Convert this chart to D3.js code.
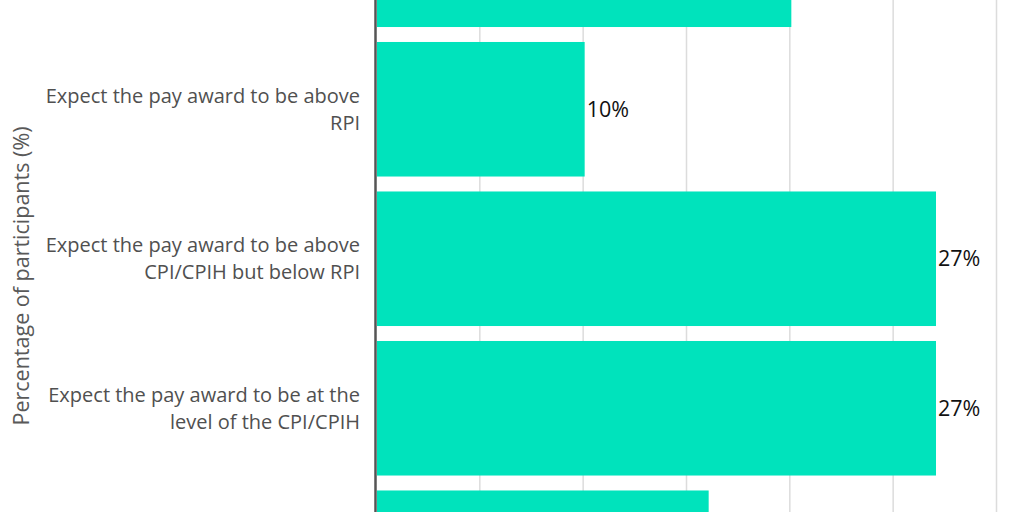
<!DOCTYPE html>
<html>
<head>
<meta charset="utf-8">
<script src="https://cdn.jsdelivr.net/npm/d3@7"></script>
<style>
  body { margin: 0; background: #fff; }
  svg { display: block; font-family: "Open Sans", "Noto Sans", sans-serif; }
  .cat-label { fill: #505050; font-size: 20px; }
  .val-label { fill: #111; font-size: 21.5px; }
  .axis-title { fill: #595959; font-size: 21.5px; }
</style>
</head>
<body>
<div id="chart"></div>
<script>
// data (top and bottom bars are cut off in the view)
const categories = [
  "Expect the pay award to be above inflation",
  "Expect the pay award to be above RPI",
  "Expect the pay award to be above CPI/CPIH but below RPI",
  "Expect the pay award to be at the level of the CPI/CPIH",
  "Expect the pay award to be below CPI/CPIH"
];
const labelLines = [
  ["Expect the pay award to be above", "inflation"],
  ["Expect the pay award to be above", "RPI"],
  ["Expect the pay award to be above", "CPI/CPIH but below RPI"],
  ["Expect the pay award to be at the", "level of the CPI/CPIH"],
  ["Expect the pay award to be below", "CPI/CPIH"]
];
const values = [20, 10, 27, 27, 16];
const gridTicks = [5, 10, 15, 20, 25, 30];

const width = 1024, height = 512;

const svg = d3.select("#chart")
    .append("svg")
    .attr("width", width)
    .attr("height", height);

const x = d3.scaleLinear()
    .domain([0, 30])
    .range([376.5, 996.5]);

const y = d3.scaleBand()
    .domain(categories)
    .range([-115, 632.5])
    .paddingInner(0.1)
    .paddingOuter(0.05);

// gridlines
svg.append("g")
    .selectAll("line")
    .data(gridTicks)
    .join("line")
    .attr("x1", d => x(d))
    .attr("x2", d => x(d))
    .attr("y1", 0)
    .attr("y2", height)
    .attr("stroke", "#dcdcdc")
    .attr("stroke-width", 1.5);

// bars
svg.append("g")
    .selectAll("rect")
    .data(values)
    .join("rect")
    .attr("x", x(0) + 0.5)
    .attr("y", (d, i) => y(categories[i]))
    .attr("width", d => x(d) - x(0) + 1)
    .attr("height", y.bandwidth())
    .attr("fill", "#00e3bc");

// value labels
svg.append("g")
    .selectAll("text")
    .data(values)
    .join("text")
    .attr("class", "val-label")
    .attr("x", d => x(d) + 3.5)
    .attr("y", (d, i) => y(categories[i]) + y.bandwidth() / 2)
    .attr("dy", "0.35em")
    .text(d => d + "%");

// category labels
const catG = svg.append("g");
categories.forEach((c, i) => {
    const cy = y(c) + y.bandwidth() / 2;
    const t = catG.append("text")
        .attr("class", "cat-label")
        .attr("text-anchor", "end");
    labelLines[i].forEach((ln, j) => {
        t.append("tspan")
            .attr("x", 360)
            .attr("y", cy + (j - 0.5) * 27)
            .attr("dy", "0.35em")
            .text(ln);
    });
});

// y axis line
svg.append("line")
    .attr("x1", 375.5)
    .attr("x2", 375.5)
    .attr("y1", 0)
    .attr("y2", height)
    .attr("stroke", "#555")
    .attr("stroke-width", 2.5);

// axis title
svg.append("text")
    .attr("class", "axis-title")
    .attr("text-anchor", "middle")
    .attr("transform", "translate(29, 276) rotate(-90)")
    .text("Percentage of participants (%)");
</script>
</body>
</html>
